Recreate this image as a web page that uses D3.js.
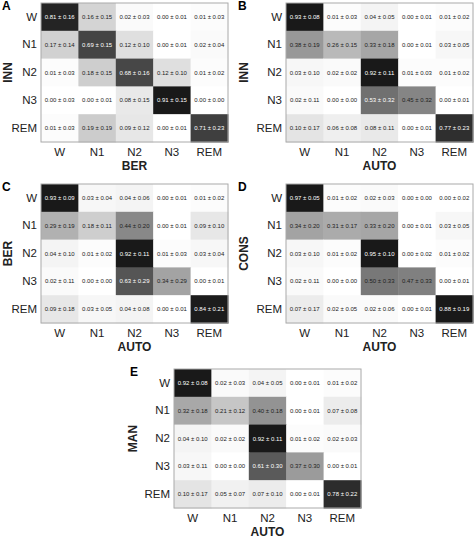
<!DOCTYPE html>
<html>
<head>
<script src="https://d3js.org/d3.v7.min.js"></script>
<style>
  body{margin:0;background:#fff;}
  text{font-family:"Liberation Sans",Arial,sans-serif;}
</style>
</head>
<body>
<svg id="chart" width="474" height="540"></svg>
<script>
const stages = ["W","N1","N2","N3","REM"];

const meanA = [[0.81,0.16,0.02,0.00,0.01],[0.17,0.69,0.12,0.00,0.02],[0.01,0.18,0.68,0.12,0.01],[0.00,0.00,0.08,0.91,0.00],[0.01,0.19,0.09,0.00,0.71]];
const sdA   = [[0.16,0.15,0.03,0.01,0.03],[0.14,0.15,0.10,0.01,0.04],[0.03,0.15,0.16,0.10,0.02],[0.03,0.01,0.15,0.15,0.00],[0.03,0.19,0.12,0.01,0.23]];
const meanB = [[0.93,0.01,0.04,0.00,0.01],[0.38,0.26,0.33,0.00,0.03],[0.03,0.02,0.92,0.01,0.01],[0.02,0.00,0.53,0.45,0.00],[0.10,0.06,0.08,0.00,0.77]];
const sdB   = [[0.08,0.03,0.05,0.01,0.02],[0.19,0.15,0.18,0.01,0.05],[0.10,0.02,0.11,0.03,0.02],[0.11,0.00,0.32,0.32,0.01],[0.17,0.08,0.11,0.01,0.23]];
const meanC = [[0.93,0.03,0.04,0.00,0.01],[0.29,0.18,0.44,0.00,0.09],[0.04,0.01,0.92,0.01,0.03],[0.02,0.00,0.63,0.34,0.00],[0.09,0.03,0.04,0.00,0.84]];
const sdC   = [[0.09,0.04,0.06,0.01,0.02],[0.19,0.11,0.20,0.01,0.10],[0.10,0.02,0.11,0.03,0.04],[0.11,0.00,0.29,0.29,0.01],[0.18,0.05,0.08,0.01,0.21]];
const meanD = [[0.97,0.01,0.02,0.00,0.00],[0.34,0.31,0.33,0.00,0.03],[0.03,0.01,0.95,0.00,0.01],[0.02,0.00,0.50,0.47,0.00],[0.07,0.02,0.02,0.00,0.88]];
const sdD   = [[0.05,0.02,0.03,0.00,0.02],[0.20,0.17,0.20,0.01,0.05],[0.10,0.02,0.10,0.02,0.02],[0.11,0.00,0.33,0.33,0.01],[0.17,0.05,0.06,0.01,0.19]];
const meanE = [[0.92,0.02,0.04,0.00,0.01],[0.32,0.21,0.40,0.00,0.07],[0.04,0.02,0.92,0.01,0.02],[0.03,0.00,0.61,0.37,0.00],[0.10,0.05,0.07,0.00,0.78]];
const sdE   = [[0.08,0.03,0.05,0.01,0.02],[0.18,0.12,0.18,0.01,0.08],[0.10,0.02,0.11,0.02,0.03],[0.11,0.00,0.30,0.30,0.01],[0.17,0.07,0.10,0.01,0.22]];

const panels = [
  {letter:"A", mean:meanA, sd:sdA, xTitle:"BER",  yTitle:"INN",  x:41,  y:3,   lx:2,   yOff:-29},
  {letter:"B", mean:meanB, sd:sdB, xTitle:"AUTO", yTitle:"INN",  x:286, y:3,   lx:238, yOff:-38},
  {letter:"C", mean:meanC, sd:sdC, xTitle:"AUTO", yTitle:"BER",  x:41,  y:184, lx:2,   yOff:-29},
  {letter:"D", mean:meanD, sd:sdD, xTitle:"AUTO", yTitle:"CONS", x:286, y:184, lx:238, yOff:-38},
  {letter:"E", mean:meanE, sd:sdE, xTitle:"AUTO", yTitle:"MAN",  x:174, y:369, lx:130, yOff:-37}
];

const W = 187, H = 139;
const svg = d3.select("#chart");
const grey = d3.scaleLinear().domain([0, 0.85]).range([255, 25]).clamp(true);

panels.forEach(p => {
  const g = svg.append("g").attr("transform", `translate(${p.x},${p.y})`);
  const x = d3.scaleBand().domain(stages).range([0, W]);
  const y = d3.scaleBand().domain(stages).range([0, H]);
  const cells = [];
  p.mean.forEach((row, i) => row.forEach((v, j) => cells.push({r: stages[i], c: stages[j], v, s: p.sd[i][j]})));

  g.selectAll("rect.cell").data(cells).join("rect")
    .attr("x", d => x(d.c)).attr("y", d => y(d.r))
    .attr("width", x.bandwidth() + 0.5).attr("height", y.bandwidth() + 0.5)
    .attr("fill", d => { const k = Math.round(grey(d.v)); return `rgb(${k},${k},${k})`; });

  g.selectAll("text.val").data(cells).join("text")
    .attr("x", d => x(d.c) + x.bandwidth() / 2).attr("y", d => y(d.r) + y.bandwidth() / 2 + 2)
    .attr("text-anchor", "middle").attr("font-size", 6)
    .attr("fill", d => d.v > 0.5 ? "#fff" : "#222")
    .text(d => `${d.v.toFixed(2)} ± ${d.s.toFixed(2)}`);

  g.append("rect").attr("width", W).attr("height", H).attr("fill", "none").attr("stroke", "#aaa");

  const xa = g.append("g").attr("transform", `translate(0,${H})`)
    .call(d3.axisBottom(x).tickSize(0).tickPadding(6));
  const ya = g.append("g").call(d3.axisLeft(y).tickSize(0).tickPadding(4));
  [xa, ya].forEach(a => {
    a.select(".domain").remove();
    a.selectAll("text").attr("font-size", 11.5).attr("fill", "#222").attr("font-family", "Liberation Sans, Arial, sans-serif");
  });

  g.append("text").attr("x", W / 2).attr("y", H + 28).attr("text-anchor", "middle")
    .attr("font-size", 12).attr("font-weight", "bold").attr("fill", "#222").text(p.xTitle);
  g.append("text").attr("transform", `translate(${p.yOff},${H / 2}) rotate(-90)`).attr("text-anchor", "middle")
    .attr("font-size", 12).attr("font-weight", "bold").attr("fill", "#222").text(p.yTitle);

  svg.append("text").attr("x", p.lx).attr("y", p.y + 7).attr("font-size", 12)
    .attr("font-weight", "bold").attr("fill", "#000").text(p.letter);
});
</script>
</body>
</html>
